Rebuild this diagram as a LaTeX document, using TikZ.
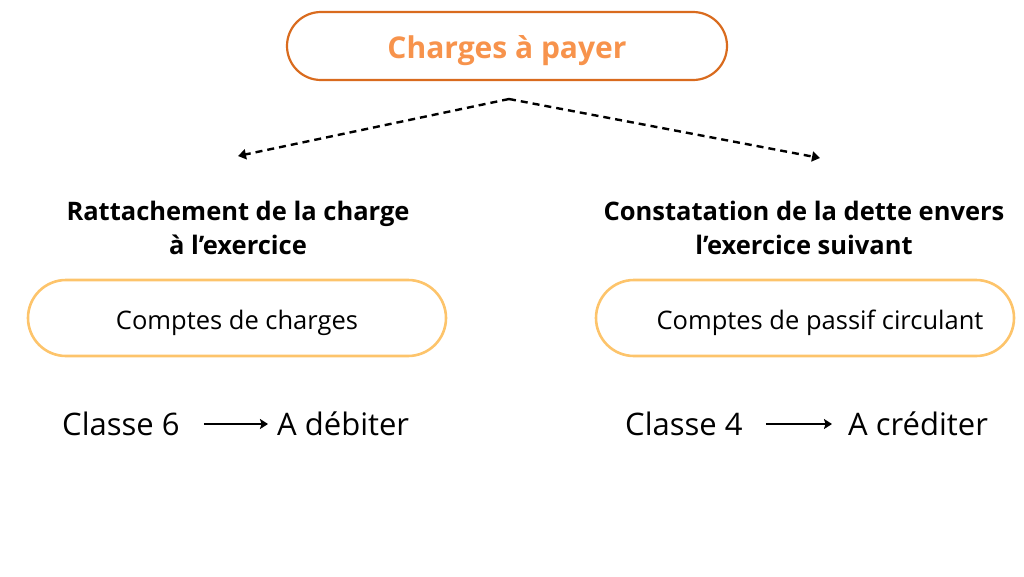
\documentclass[tikz,border=0pt]{standalone}
\usepackage{fontspec}
\setmainfont{Open Sans}
\usepackage{xcolor}
\usepackage{tikz}
\usetikzlibrary{arrows,arrows.meta,shapes,positioning,calc}
\definecolor{darkorange}{HTML}{D96B1E}
\definecolor{lightorange}{HTML}{F7934C}
\definecolor{paleorange}{HTML}{FDC46B}

\begin{document}
\begin{tikzpicture}[x=1pt, y=-1pt,
    titlebox/.style={rectangle, draw=darkorange, line width=2.2pt, rounded corners=34pt, minimum width=440pt, minimum height=68pt, text=lightorange, text height=32pt, text depth=7pt, font=\fontsize{30}{36}\selectfont\bfseries},
    groupbox/.style={rectangle, draw=paleorange, line width=2.6pt, rounded corners=38pt, minimum width=418pt, minimum height=76pt, text height=28pt, text depth=6pt, font=\fontsize{25.5}{30}\selectfont},
    heading/.style={align=center, font=\fontsize{25.5}{34}\selectfont\bfseries},
    entry/.style={font=\fontsize{31}{36}\selectfont, inner sep=0pt},
    split/.style={-{Triangle[length=8pt,width=10pt]}, dash pattern=on 7pt off 5pt, line width=2.4pt},
    rule/.style={-{Stealth[length=8pt,width=10pt,inset=1.5pt]}, line width=2.2pt}
]
\useasboundingbox (0,0) rectangle (1024,576);

% Title
\node[titlebox] (charges) at (507,46) {Charges à payer};
\coordinate (fork) at (509,99);
\coordinate (leftend) at (238,156);
\coordinate (rightend) at (820,158);

% Branches
\draw[split] (fork) -- (leftend);
\draw[split] (fork) -- (rightend);

% Headings
\node[heading] (rattachement) at (238,228) {Rattachement de la charge\\à l’exercice};
\node[heading] (constatation) at (804,228) {Constatation de la dette envers\\l’exercice suivant};

% Accounts
\node[groupbox] (chargebox) at (237,318) {Comptes de charges};
\node[groupbox] (passifbox) at (805,318) {\hspace{30pt}Comptes de passif circulant};

% Classes
\node[entry, anchor=west] (classesix) at (62,424) {Classe 6};
\node[entry, anchor=west] (debiter) at (277,424) {A débiter};
\node[entry, anchor=west] (classefour) at (625,424) {Classe 4};
\node[entry, anchor=west] (crediter) at (848,424) {A créditer};

\draw[rule] ([xshift=24pt]classesix.east) -- ([xshift=-9pt]debiter.west);
\draw[rule] ([xshift=23pt]classefour.east) -- ([xshift=-16pt]crediter.west);

\end{tikzpicture}
\end{document}
